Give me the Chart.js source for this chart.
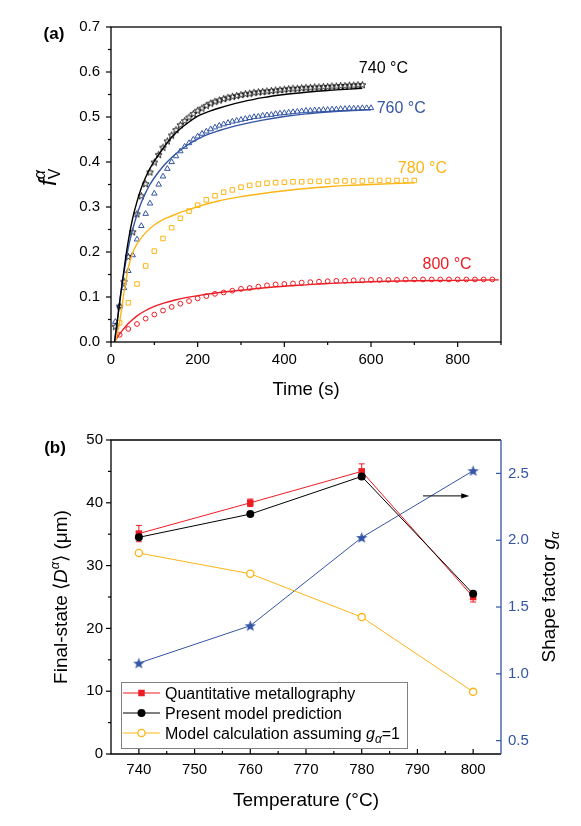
<!DOCTYPE html>
<html>
<head>
<meta charset="utf-8">
<script src="https://cdn.jsdelivr.net/npm/chart.js@4.4.1/dist/chart.umd.min.js"></script>
<style>
  html, body { margin: 0; padding: 0; background: #fff; }
  #wrap { position: relative; width: 581px; height: 826px; }
  canvas { position: absolute; left: 0; }
  #chartA { top: 0; }
  #chartB { top: 400px; }
</style>
</head>
<body>
<div id="wrap">
  <canvas id="chartA" width="581" height="400"></canvas>
  <canvas id="chartB" width="581" height="426"></canvas>
</div>
<script>
/* (a) ferrite fraction vs time, (b) final grain size / shape factor vs temperature */

const FONT = '"Liberation Sans", Arial, Helvetica, sans-serif';
const RED = '#ed1c24';
const BLUE = '#3455a5';
const ORANGE = '#fdb515';
const BLACK = '#000000';

// ---- panel (a): measured points ----
const t740 = [10, 20, 30, 40, 50, 60, 70, 80, 90, 100,
              110, 120, 130, 140, 150, 160, 170, 180, 190, 200,
              210, 220, 230, 240, 250, 260, 270, 280, 290, 300,
              310, 320, 330, 340, 350, 360, 370, 380, 390, 400,
              410, 420, 430, 440, 450, 460, 470, 480, 490, 500,
              510, 520, 530, 540, 550, 560, 570, 580];
const f740 = [0.035, 0.080, 0.135, 0.190, 0.245, 0.285, 0.325, 0.352, 0.378, 0.400,
              0.417, 0.433, 0.447, 0.460, 0.472, 0.483, 0.492, 0.500, 0.508, 0.515,
              0.520, 0.526, 0.531, 0.535, 0.538, 0.541, 0.544, 0.546, 0.548, 0.550,
              0.552, 0.553, 0.555, 0.556, 0.557, 0.558, 0.559, 0.560, 0.561, 0.562,
              0.563, 0.564, 0.564, 0.565, 0.566, 0.566, 0.567, 0.567, 0.568, 0.568,
              0.569, 0.569, 0.570, 0.570, 0.571, 0.571, 0.572, 0.572];

const t760 = [10, 20, 30, 40, 50, 60, 70, 80, 90, 100,
              110, 120, 130, 140, 150, 160, 170, 180, 190, 200,
              210, 220, 230, 240, 250, 260, 270, 280, 290, 300,
              310, 320, 330, 340, 350, 360, 370, 380, 390, 400,
              410, 420, 430, 440, 450, 460, 470, 480, 490, 500,
              510, 520, 530, 540, 550, 560, 570, 580, 590, 600];
const f760 = [0.045, 0.080, 0.120, 0.158, 0.193, 0.228, 0.258, 0.285, 0.308, 0.330,
              0.350, 0.368, 0.385, 0.400, 0.413, 0.424, 0.434, 0.442, 0.450, 0.457,
              0.463, 0.468, 0.473, 0.477, 0.481, 0.484, 0.487, 0.490, 0.492, 0.494,
              0.496, 0.498, 0.500, 0.501, 0.503, 0.504, 0.505, 0.507, 0.508, 0.509,
              0.510, 0.511, 0.512, 0.513, 0.514, 0.514, 0.515, 0.515, 0.516, 0.516,
              0.517, 0.517, 0.518, 0.518, 0.519, 0.519, 0.519, 0.520, 0.520, 0.520];

const t780 = [20, 40, 60, 80, 100, 120, 140, 160, 180, 200,
              220, 240, 260, 280, 300, 320, 340, 360, 380, 400,
              420, 440, 460, 480, 500, 520, 540, 560, 580, 600,
              620, 640, 660, 680, 700];
const f780 = [0.043, 0.087, 0.129, 0.169, 0.202, 0.230, 0.254, 0.275, 0.291, 0.304,
              0.316, 0.325, 0.333, 0.338, 0.344, 0.348, 0.351, 0.353, 0.354, 0.355,
              0.356, 0.356, 0.357, 0.357, 0.357, 0.358, 0.358, 0.358, 0.358, 0.359,
              0.359, 0.359, 0.359, 0.359, 0.359];

const t800 = [20, 40, 60, 80, 100, 120, 140, 160, 180, 200,
              220, 240, 260, 280, 300, 320, 340, 360, 380, 400,
              420, 440, 460, 480, 500, 520, 540, 560, 580, 600,
              620, 640, 660, 680, 700, 720, 740, 760, 780, 800,
              820, 840, 860, 880];
const f800 = [0.016, 0.029, 0.040, 0.052, 0.061, 0.070, 0.078, 0.085, 0.091, 0.097,
              0.102, 0.107, 0.110, 0.114, 0.118, 0.120, 0.123, 0.126, 0.128, 0.129,
              0.130, 0.132, 0.133, 0.134, 0.135, 0.136, 0.136, 0.137, 0.137, 0.138,
              0.138, 0.138, 0.138, 0.139, 0.139, 0.139, 0.139, 0.139, 0.139, 0.139,
              0.139, 0.139, 0.139, 0.139];

// ---- panel (a): model curves ----
const t740Fit = [8, 15, 20, 25, 30, 35, 40, 50, 60, 70, 80, 90, 100, 120, 140,
                 160, 180, 200, 225, 250, 275, 300, 350, 400, 450, 500, 550, 580];
const f740Fit = [0, 0.050, 0.088, 0.125, 0.160, 0.195, 0.225, 0.275, 0.312, 0.342, 0.366, 0.386, 0.402, 0.430, 0.455,
                 0.474, 0.489, 0.502, 0.512, 0.520, 0.527, 0.533, 0.543, 0.550, 0.555, 0.559, 0.562, 0.564];

const t760Fit = [8, 15, 20, 25, 30, 40, 50, 60, 70, 80, 90, 100, 120, 140,
                 160, 180, 200, 225, 250, 275, 300, 350, 400, 450, 500, 550, 600];
const f760Fit = [0, 0.050, 0.090, 0.125, 0.155, 0.210, 0.250, 0.283, 0.310, 0.332, 0.350, 0.365, 0.390, 0.410,
                 0.426, 0.440, 0.451, 0.462, 0.470, 0.477, 0.483, 0.493, 0.501, 0.507, 0.511, 0.514, 0.516];

const t780Fit = [10, 20, 30, 40, 50, 60, 80, 100, 120, 140, 160, 180,
                 200, 250, 300, 350, 400, 450, 500, 550, 600, 650, 700];
const f780Fit = [0, 0.045, 0.110, 0.165, 0.198, 0.218, 0.243, 0.260, 0.272, 0.280, 0.288, 0.294,
                 0.301, 0.314, 0.323, 0.330, 0.336, 0.341, 0.345, 0.348, 0.350, 0.352, 0.354];

const t800Fit = [8, 20, 30, 40, 50, 60, 80, 100, 120, 150, 200,
                 250, 300, 350, 400, 450, 500, 550, 600, 700, 800, 895];
const f800Fit = [0, 0.018, 0.030, 0.041, 0.050, 0.058, 0.070, 0.079, 0.086, 0.094, 0.103,
                 0.110, 0.115, 0.120, 0.124, 0.127, 0.130, 0.132, 0.134, 0.136, 0.137, 0.138];

const timeTicks = [0, 200, 400, 600, 800];
const timeMinor = [100, 300, 500, 700, 900];
const fracTicks = [0, 0.1, 0.2, 0.3, 0.4, 0.5, 0.6, 0.7];
const fracMinor = [0.05, 0.15, 0.25, 0.35, 0.45, 0.55, 0.65];

// ---- panel (b) ----
const temps = [740, 760, 780, 800];
const metallography = [35.1, 40.0, 45.0, 25.0];
const metallographyErr = [1.3, 0.6, 1.2, 0.8];
const modelPrediction = [34.5, 38.2, 44.2, 25.5];
const modelUnitShape = [32.0, 28.7, 21.8, 9.9];
const shapeFactor = [1.08, 1.36, 2.02, 2.52];

const tempTicks = [740, 750, 760, 770, 780, 790, 800];
const tempMinor = [745, 755, 765, 775, 785, 795];
const sizeTicks = [0, 10, 20, 30, 40, 50];
const sizeMinor = [5, 15, 25, 35, 45];
const shapeTicks = [0.5, 1.0, 1.5, 2.0, 2.5];

const pts = (xs, ys) => xs.map((x, i) => ({ x: x, y: ys[i] }));

function starImage(size, fill, stroke, lw) {
  const c = document.createElement('canvas');
  c.width = size; c.height = size;
  const g = c.getContext('2d');
  const cx = size / 2, cy = size / 2 + 0.5, ro = size / 2 - lw, ri = ro * 0.42;
  g.beginPath();
  for (let i = 0; i < 10; i++) {
    const r = i % 2 ? ri : ro;
    const a = -Math.PI / 2 + i * Math.PI / 5;
    g.lineTo(cx + r * Math.cos(a), cy + r * Math.sin(a));
  }
  g.closePath();
  if (fill) { g.fillStyle = fill; g.fill(); }
  if (stroke) { g.strokeStyle = stroke; g.lineWidth = lw; g.stroke(); }
  return c;
}
const openStar = starImage(9, null, BLACK, 0.9);
const blueStar = starImage(13, BLUE, null, 0.5);

// draws mixed-style text centred on (x, y); parts: {t, s, i, b, dy, stack, c}
function rich(ctx, parts, x, y, rot, align, color) {
  ctx.save();
  ctx.translate(x, y);
  ctx.rotate(rot || 0);
  ctx.textBaseline = 'alphabetic';
  ctx.textAlign = 'left';
  const fontOf = p => (p.i ? 'italic ' : '') + (p.b ? 'bold ' : '') + p.s + 'px ' + FONT;
  let w = 0;
  parts.forEach(p => {
    ctx.font = fontOf(p);
    p.w = ctx.measureText(p.t).width;
    if (!p.stack) w += p.w;
  });
  let cx = align === 'left' ? 0 : -w / 2;
  const base = parts[0].s * 0.36;
  parts.forEach(p => {
    ctx.font = fontOf(p);
    ctx.fillStyle = p.c || color || BLACK;
    ctx.fillText(p.t, cx, base + (p.dy || 0));
    if (!p.stack) cx += p.w;
  });
  ctx.restore();
}

function drawTicks(chart, id, side, dir, major, minor, color) {
  const s = chart.scales[id], a = chart.chartArea, ctx = chart.ctx;
  ctx.strokeStyle = color;
  ctx.lineWidth = 1.2;
  const run = (vals, len) => vals.forEach(v => {
    const p = s.getPixelForValue(v);
    ctx.beginPath();
    if (side === 'bottom') { ctx.moveTo(p, a.bottom); ctx.lineTo(p, a.bottom + dir * len); }
    else if (side === 'left') { ctx.moveTo(a.left, p); ctx.lineTo(a.left - dir * len, p); }
    else { ctx.moveTo(a.right, p); ctx.lineTo(a.right + dir * len, p); }
    ctx.stroke();
  });
  run(major, 5);
  run(minor, 3);
}

function linearAxis(min, max, ticks, size, pad, fmt) {
  return {
    type: 'linear', min: min, max: max,
    afterBuildTicks: s => { s.ticks = ticks.map(v => ({ value: v })); },
    afterFit: s => { if (s.isHorizontal()) s.height = size; else s.width = size; },
    grid: { display: false, drawTicks: false },
    border: { display: false },
    ticks: { color: BLACK, font: { family: FONT, size: 15 }, padding: pad,
             maxRotation: 0, autoSkip: false, callback: fmt || (v => v) }
  };
}

function markerSet(xs, ys, color, style, radius) {
  return { data: pts(xs, ys), showLine: false, pointStyle: style, pointRadius: radius,
           pointBorderWidth: 1, borderColor: color, backgroundColor: 'rgba(0,0,0,0)' };
}
function fitSet(xs, ys, color) {
  return { data: pts(xs, ys), showLine: true, pointRadius: 0, borderColor: color,
           borderWidth: 1.4, cubicInterpolationMode: 'monotone', fill: false };
}

// ---------------- panel (a) ----------------
const tempLabels = [
  { text: '740 °C', color: BLACK, at: [572, 0.611] },
  { text: '760 °C', color: BLUE, at: [613, 0.522] },
  { text: '780 °C', color: ORANGE, at: [662, 0.389] },
  { text: '800 °C', color: RED, at: [719, 0.176] }
];

const decorA = {
  id: 'decorA',
  afterDraw(chart) {
    const { ctx, chartArea: a, scales } = chart;
    ctx.save();
    ctx.strokeStyle = BLACK;
    ctx.lineWidth = 1.3;
    ctx.strokeRect(a.left, a.top, a.right - a.left, a.bottom - a.top);
    drawTicks(chart, 'x', 'bottom', 1, timeTicks, timeMinor, BLACK);
    drawTicks(chart, 'y', 'left', 1, fracTicks, fracMinor, BLACK);
    tempLabels.forEach(l => {
      rich(ctx, [{ t: l.text, s: 16 }], scales.x.getPixelForValue(l.at[0]),
           scales.y.getPixelForValue(l.at[1]), 0, 'left', l.color);
    });
    rich(ctx, [{ t: '(a)', s: 17, b: true }], 54, 33, 0);
    rich(ctx, [{ t: 'Time (s)', s: 18.5 }], (a.left + a.right) / 2, 388, 0);
    rich(ctx, [{ t: 'f', s: 24, i: true }, { t: 'V', s: 16, dy: 4, stack: true },
               { t: 'α', s: 16, i: true, dy: -11 }], 47, 178, -Math.PI / 2);
    ctx.restore();
  }
};

new Chart(document.getElementById('chartA'), {
  type: 'scatter',
  data: {
    datasets: [
      fitSet(t740Fit, f740Fit, BLACK),
      fitSet(t760Fit, f760Fit, BLUE),
      fitSet(t780Fit, f780Fit, ORANGE),
      fitSet(t800Fit, f800Fit, RED),
      markerSet(t740, f740, BLACK, openStar, 4),
      markerSet(t760, f760, BLUE, 'triangle', 3.2),
      markerSet(t780, f780, ORANGE, 'rect', 3.2),
      markerSet(t800, f800, RED, 'circle', 2.4)
    ]
  },
  options: {
    responsive: false, animation: false, events: [],
    layout: { padding: { top: 27, right: 80, left: 0, bottom: 0 } },
    plugins: { legend: { display: false }, tooltip: { enabled: false } },
    scales: {
      x: linearAxis(0, 900, timeTicks, 58, 9),
      y: linearAxis(0, 0.7, fracTicks, 111, 11, v => v.toFixed(1))
    }
  },
  plugins: [decorA]
});

// ---------------- panel (b) ----------------
const legendItems = [
  { text: [{ t: 'Quantitative metallography', s: 16 }], color: RED, fill: RED, style: 'rect', r: 4.6 },
  { text: [{ t: 'Present model prediction', s: 16 }], color: BLACK, fill: BLACK, style: 'circle', r: 4 },
  { text: [{ t: 'Model calculation assuming ', s: 16 }, { t: 'g', s: 16, i: true },
           { t: 'α', s: 12, i: true, dy: 4 }, { t: '=1', s: 16 }],
    color: ORANGE, fill: '#ffffff', style: 'circle', r: 3.6 }
];
const arrowAt = { from: [791, 41.1], to: [799.3, 41.1] };

const decorB = {
  id: 'decorB',
  beforeDatasetsDraw(chart) {
    const { ctx, scales } = chart;
    ctx.save();
    ctx.strokeStyle = RED;
    ctx.lineWidth = 1;
    temps.forEach((t, i) => {
      const x = scales.x.getPixelForValue(t);
      const y1 = scales.y.getPixelForValue(metallography[i] - metallographyErr[i]);
      const y2 = scales.y.getPixelForValue(metallography[i] + metallographyErr[i]);
      ctx.beginPath();
      ctx.moveTo(x, y1); ctx.lineTo(x, y2);
      ctx.moveTo(x - 3, y1); ctx.lineTo(x + 3, y1);
      ctx.moveTo(x - 3, y2); ctx.lineTo(x + 3, y2);
      ctx.stroke();
    });
    ctx.restore();
  },
  afterDraw(chart) {
    const { ctx, chartArea: a, scales } = chart;
    ctx.save();
    ctx.lineWidth = 1.3;
    ctx.strokeStyle = BLACK;
    ctx.beginPath();
    ctx.moveTo(a.right, a.top); ctx.lineTo(a.left, a.top);
    ctx.lineTo(a.left, a.bottom); ctx.lineTo(a.right, a.bottom);
    ctx.stroke();
    ctx.strokeStyle = BLUE;
    ctx.beginPath();
    ctx.moveTo(a.right, a.top); ctx.lineTo(a.right, a.bottom);
    ctx.stroke();
    drawTicks(chart, 'x', 'bottom', -1, tempTicks, tempMinor, BLACK);
    drawTicks(chart, 'y', 'left', 1, sizeTicks, sizeMinor, BLACK);
    drawTicks(chart, 'y2', 'right', -1, shapeTicks, [], BLUE);

    // arrow towards the right axis
    const ax1 = scales.x.getPixelForValue(arrowAt.from[0]);
    const ax2 = scales.x.getPixelForValue(arrowAt.to[0]);
    const ay = scales.y.getPixelForValue(arrowAt.from[1]);
    ctx.strokeStyle = BLACK; ctx.fillStyle = BLACK; ctx.lineWidth = 1;
    ctx.beginPath(); ctx.moveTo(ax1, ay); ctx.lineTo(ax2 - 6, ay); ctx.stroke();
    ctx.beginPath(); ctx.moveTo(ax2, ay); ctx.lineTo(ax2 - 8, ay - 2.6); ctx.lineTo(ax2 - 8, ay + 2.6);
    ctx.closePath(); ctx.fill();

    // legend
    const lx = a.left + 10, ly = a.bottom - 72;
    ctx.fillStyle = '#ffffff';
    ctx.fillRect(lx, ly, 286, 66);
    ctx.strokeStyle = '#808080'; ctx.lineWidth = 1;
    ctx.strokeRect(lx + 0.5, ly + 0.5, 286, 66);
    legendItems.forEach((it, i) => {
      const y = ly + 11 + i * 20;
      ctx.strokeStyle = it.color; ctx.lineWidth = 1;
      ctx.beginPath(); ctx.moveTo(lx + 2, y); ctx.lineTo(lx + 39, y); ctx.stroke();
      ctx.fillStyle = it.fill; ctx.lineWidth = 1.3;
      Chart.helpers.drawPoint(ctx, { pointStyle: it.style, radius: it.r, rotation: 0,
                                     borderWidth: it.fill === '#ffffff' ? 1.3 : 0 }, lx + 20.5, y);
      rich(ctx, it.text, lx + 44, y, 0, 'left');
    });

    rich(ctx, [{ t: '(b)', s: 17, b: true }], 55, 47, 0);
    rich(ctx, [{ t: 'Temperature (°C)', s: 19 }], (a.left + a.right) / 2, 399, 0);
    rich(ctx, [{ t: 'Final-state ⟨', s: 19 }, { t: 'D', s: 19, i: true },
               { t: 'α', s: 13, i: true, dy: -8 }, { t: '⟩ (μm)', s: 19 }],
         60, (a.top + a.bottom) / 2, -Math.PI / 2);
    rich(ctx, [{ t: 'Shape factor ', s: 19 }, { t: 'g', s: 19, i: true },
               { t: 'α', s: 13, i: true, dy: 4 }],
         548, (a.top + a.bottom) / 2, -Math.PI / 2);
    ctx.restore();
  }
};

const shapeAxis = linearAxis(0.4, 2.75, shapeTicks, 80, 7, v => v.toFixed(1));
shapeAxis.position = 'right';
shapeAxis.ticks.color = BLUE;

new Chart(document.getElementById('chartB'), {
  type: 'scatter',
  data: {
    datasets: [
      { data: pts(temps, metallography), yAxisID: 'y', showLine: true, borderColor: RED, borderWidth: 1,
        backgroundColor: RED, pointStyle: 'rect', pointRadius: 4.6, pointBorderWidth: 0, order: 2 },
      { data: pts(temps, modelPrediction), yAxisID: 'y', showLine: true, borderColor: BLACK, borderWidth: 1,
        backgroundColor: BLACK, pointStyle: 'circle', pointRadius: 4, pointBorderWidth: 0, order: 1 },
      { data: pts(temps, modelUnitShape), yAxisID: 'y', showLine: true, borderColor: ORANGE, borderWidth: 1,
        backgroundColor: '#ffffff', pointStyle: 'circle', pointRadius: 3.6, pointBorderWidth: 1.3, order: 3 },
      { data: pts(temps, shapeFactor), yAxisID: 'y2', showLine: true, borderColor: BLUE, borderWidth: 1,
        backgroundColor: BLUE, pointStyle: blueStar, pointRadius: 6, order: 4 }
    ]
  },
  options: {
    responsive: false, animation: false, events: [],
    layout: { padding: { top: 40, right: 0, left: 0, bottom: 0 } },
    plugins: { legend: { display: false }, tooltip: { enabled: false } },
    scales: {
      x: linearAxis(735, 805, tempTicks, 72, 7),
      y: linearAxis(0, 50, sizeTicks, 111, 8),
      y2: shapeAxis
    }
  },
  plugins: [decorB]
});
</script>
</body>
</html>
